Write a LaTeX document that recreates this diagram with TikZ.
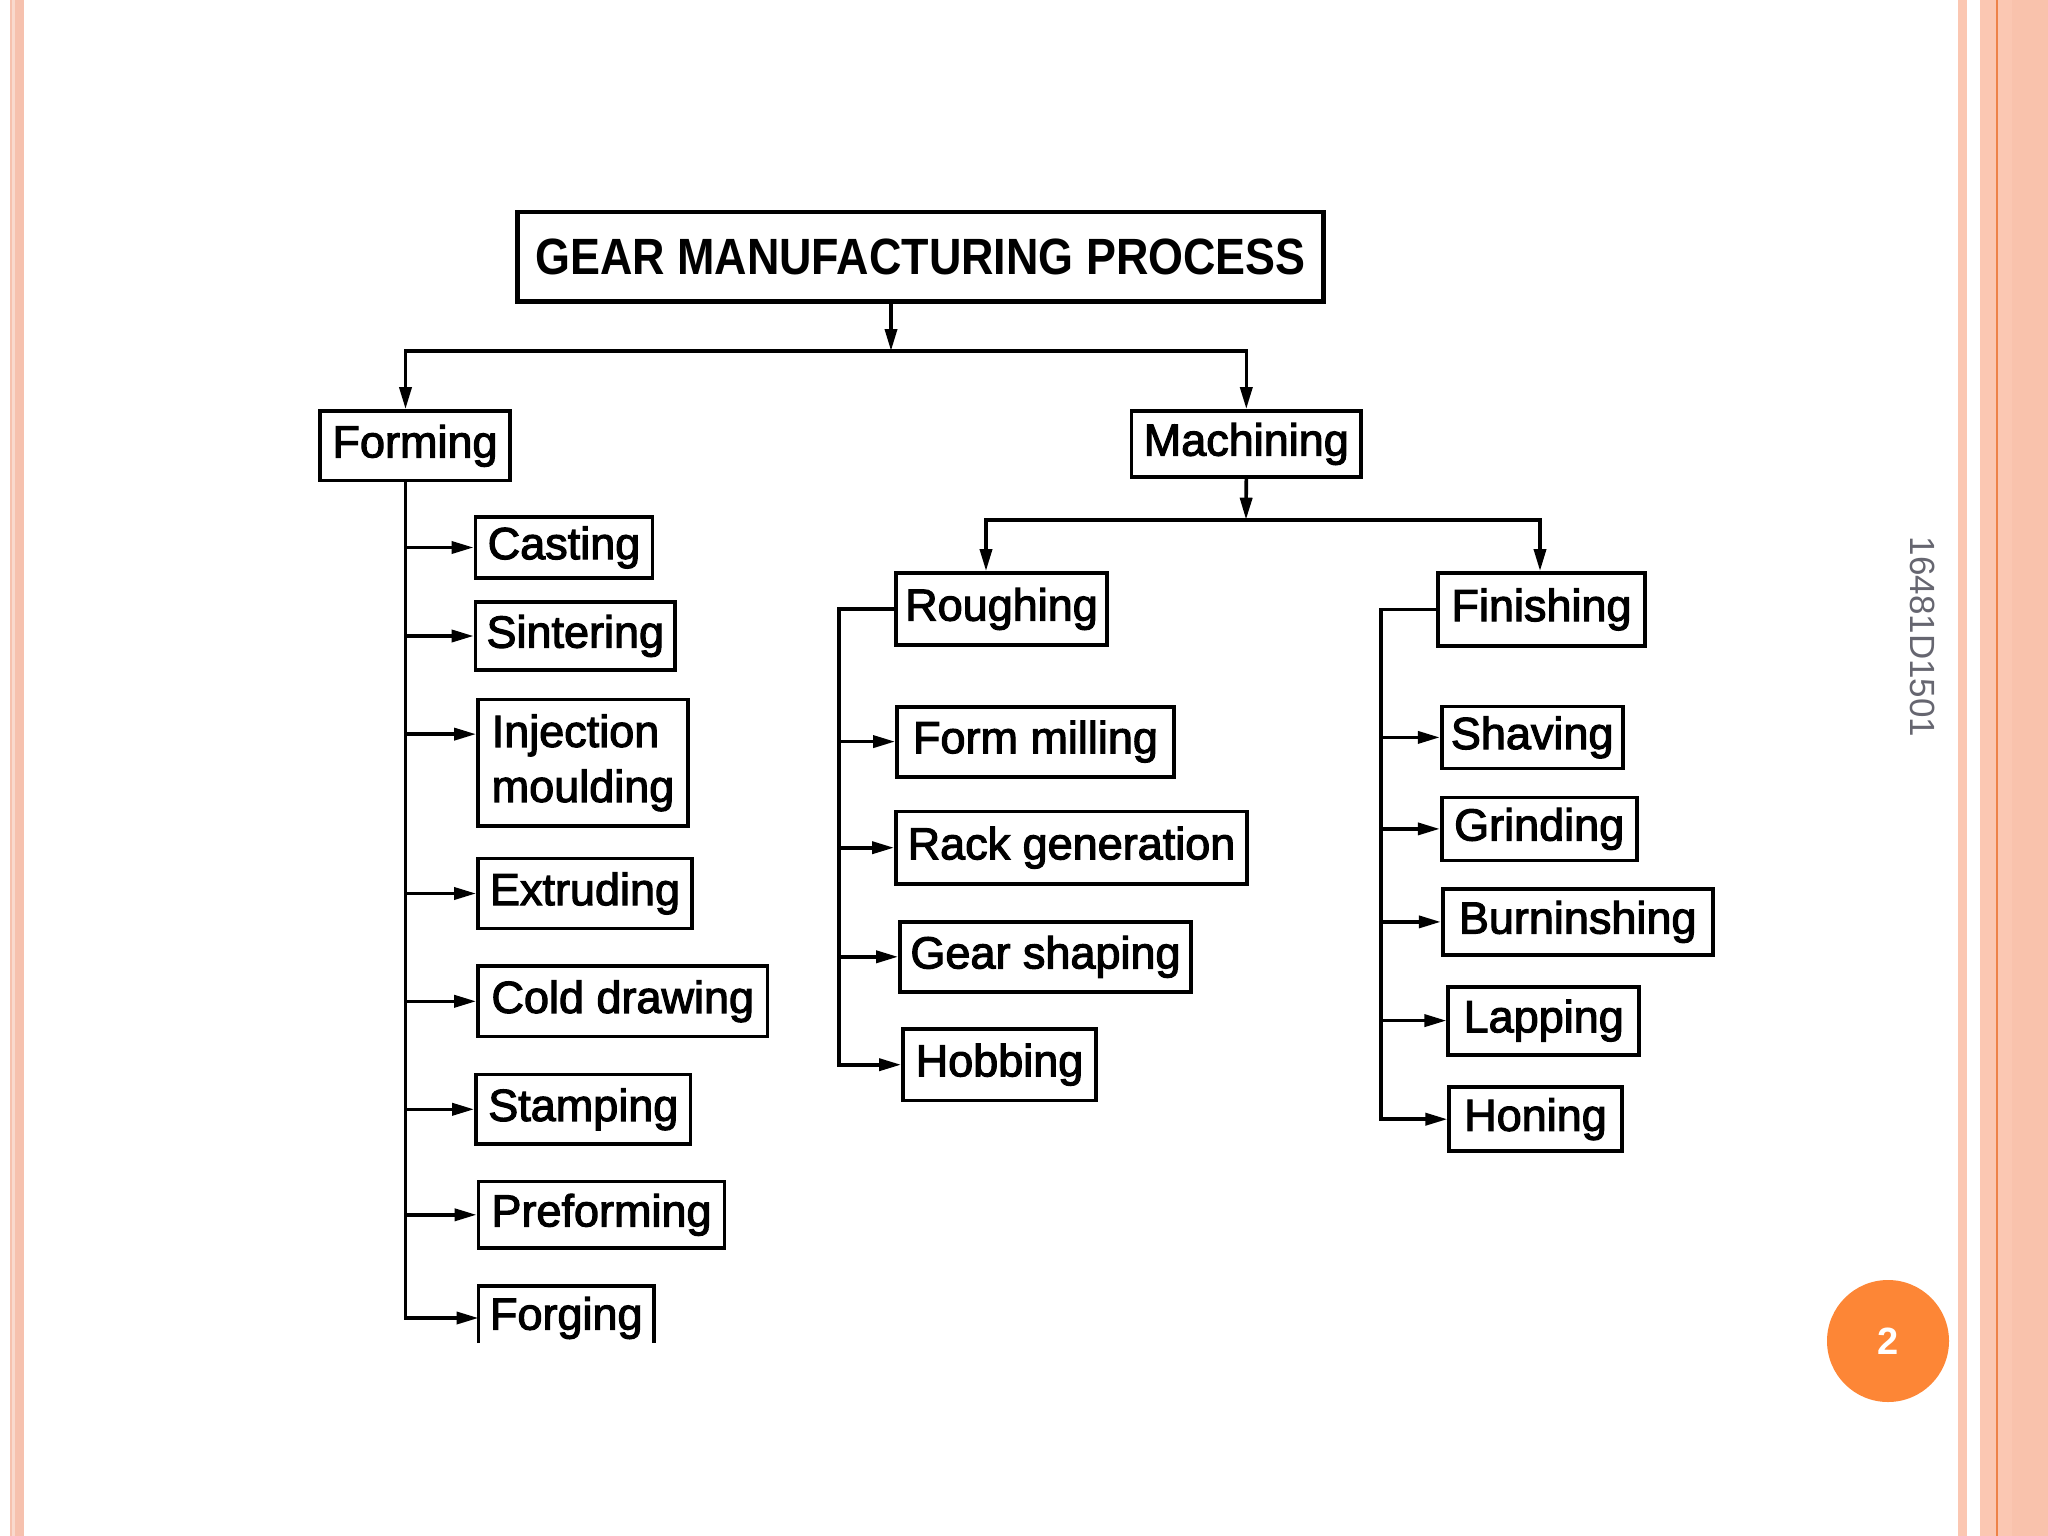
\documentclass[tikz,border=0pt]{standalone}
\usepackage{fontspec}
\setmainfont{Liberation Sans}
\newfontfamily\lblfont[FakeBold=2.5]{Liberation Sans}
\newfontfamily\ttlfont[FakeStretch=0.88]{Liberation Sans}
\usetikzlibrary{arrows.meta,calc}
\definecolor{lstripe}{HTML}{F6C1AE}
\definecolor{lstripeb}{HTML}{F9D9CD}
\definecolor{rpink}{HTML}{FBC7B2}
\definecolor{rpinkb}{HTML}{F9C2AC}
\definecolor{rorange}{HTML}{EE8248}
\definecolor{idgray}{HTML}{666670}
\definecolor{badge}{HTML}{FD8636}
\tikzset{
  box/.style={draw=black, line width=3.8pt, inner sep=0pt, text=black,
    font=\lblfont\fontsize{45}{55}\selectfont},
  conn/.style={line width=3.6pt, draw=black},
  arr/.style={conn, -{Triangle[length=22pt,width=12pt]}},
}
\begin{document}
\begin{tikzpicture}[x=1pt,y=-1pt]
\fill[white] (0,0) rectangle (2048,1536);
\useasboundingbox (0,0) rectangle (2048,1536);
% slide borders
\fill[lstripe] (10,0) rectangle (24,1536);
\fill[lstripeb] (12,0) rectangle (15,1536);
\fill[rpink] (1958,0) rectangle (1967,1536);
\fill[rpink] (1980,0) rectangle (2048,1536);
\fill[rpinkb] (2012,0) rectangle (2048,1536);
\fill[rorange] (1995.5,0) rectangle (1997.5,1536);
% side id and badge
\node[rotate=-90, text=idgray, inner sep=0pt, font=\fontsize{35}{35}\selectfont] (sid) at (1923,637) {16481D1501};
\node[circle, fill=badge, minimum size=122pt, inner sep=0pt, text=white,
  font=\bfseries\fontsize{38}{38}\selectfont] (badge) at (1888,1341) {2};
% title
\node[box, line width=4.2pt, minimum width=806pt, minimum height=89.5pt,
  font=\ttlfont\bfseries\fontsize{51}{51}\selectfont] (title) at (920.4,256.8) {GEAR MANUFACTURING PROCESS};
% level 1
\node[box, minimum width=190pt, minimum height=69.5pt] (forming) at (415,445.8) {Forming};
\node[box, minimum width=229.5pt, minimum height=66pt] (machining) at (1246.3,444) {Machining};
% forming children
\node[box, minimum width=177pt, minimum height=61pt] (cast) at (564,547.5) {Casting};
\node[box, minimum width=199.5pt, minimum height=68pt] (sint) at (575.3,636) {Sintering};
\node[box, minimum width=210pt, minimum height=126.5pt, align=left] (inj) at (583,762.8) {Injection\\moulding};
\node[box, minimum width=214pt, minimum height=70pt] (extr) at (585,893.5) {Extruding};
\node[box, minimum width=289.5pt, minimum height=70.5pt] (cold) at (622.8,1001.3) {Cold drawing};
\node[box, minimum width=214.5pt, minimum height=69.5pt] (stamp) at (583.3,1109.3) {Stamping};
\node[box, minimum width=246pt, minimum height=66.5pt] (pref) at (601.5,1214.8) {Preforming};
\node[box, draw=none, outer sep=0pt, minimum width=175.5pt, minimum height=64pt] (forg) at (566.3,1318) {Forging};
\coordinate (cut) at (0,1343);
\draw[line width=3.8pt] (forg.west |- cut) -- (forg.north west) -- (forg.north east) -- (forg.east |- cut);
% machining children
\node[box, minimum width=211pt, minimum height=72pt] (rough) at (1001.5,609) {Roughing};
\node[box, minimum width=207pt, minimum height=73pt] (finish) at (1541.5,609.5) {Finishing};
\node[box, minimum width=277pt, minimum height=70pt] (fmill) at (1035.5,741.6) {Form milling};
\node[box, minimum width=351pt, minimum height=72.6pt] (rack) at (1071.5,847.7) {Rack generation};
\node[box, minimum width=291pt, minimum height=70.4pt] (gshape) at (1045.5,956.8) {Gear shaping};
\node[box, minimum width=193pt, minimum height=71.4pt] (hobb) at (999.5,1064.7) {Hobbing};
\node[box, minimum width=181pt, minimum height=62pt] (shav) at (1532.2,737.4) {Shaving};
\node[box, minimum width=195pt, minimum height=63pt] (grind) at (1539.2,828.9) {Grinding};
\node[box, minimum width=270pt, minimum height=65.8pt] (burn) at (1577.7,921.9) {Burninshing};
\node[box, minimum width=190.7pt, minimum height=68pt] (lapp) at (1543.7,1020.6) {Lapping};
\node[box, minimum width=172.4pt, minimum height=64.3pt] (hon) at (1535.5,1119.2) {Honing};
% junction coordinates
\coordinate (tsplit) at (891,351);
\coordinate (ftrunk) at (405.5,0);
\coordinate (msplit) at (1246,519.7);
\coordinate (rtrunk) at (839,0);
\coordinate (ktrunk) at (1380.7,0);
\coordinate (rdrop) at (986,0);
\coordinate (kdrop) at (1540,0);
\coordinate (injin) at ($(inj.north west)!0.28!(inj.south west)$);
% top connectors
\draw[arr] (title.south -| tsplit) -- (tsplit);
\draw[arr] (tsplit) -| (forming.north -| ftrunk);
\draw[arr] (tsplit) -| (machining.north);
% forming branch
\draw[arr] (forming.south -| ftrunk) |- (forg.west);
\foreach \n in {cast,sint,extr,cold,stamp,pref} {
  \draw[arr] (\n.west -| ftrunk) -- (\n.west);
}
\draw[arr] (injin -| ftrunk) -- (injin);
% machining branch
\draw[arr] (machining.south) -- (msplit);
\draw[arr] (msplit) -| (rough.north -| rdrop);
\draw[arr] (msplit) -| (finish.north -| kdrop);
\draw[arr] (rough.west) -| (rtrunk |- hobb.west) -- (hobb.west);
\foreach \n in {fmill,rack,gshape} {
  \draw[arr] (\n.west -| rtrunk) -- (\n.west);
}
\draw[arr] (finish.west) -| (ktrunk |- hon.west) -- (hon.west);
\foreach \n in {shav,grind,burn,lapp} {
  \draw[arr] (\n.west -| ktrunk) -- (\n.west);
}
\end{tikzpicture}
\end{document}
